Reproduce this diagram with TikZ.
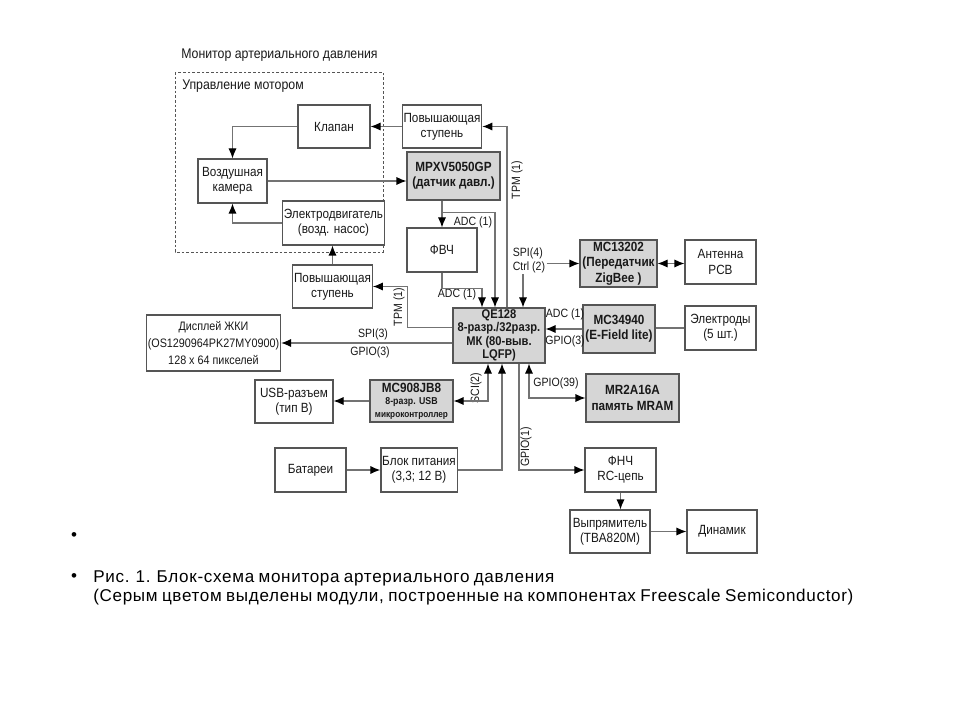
\documentclass[tikz,border=0pt]{standalone}
\usepackage{fontspec}
\setmainfont{Liberation Sans}
\newfontfamily\narrowfont[FakeStretch=0.88]{Liberation Sans}
\newfontfamily\capfont[LetterSpace=4,WordSpace=0.8]{Liberation Sans}
\usetikzlibrary{arrows.meta,calc}

\definecolor{boxgray}{RGB}{214,214,214}
\definecolor{linegray}{RGB}{115,115,115}
\definecolor{framegray}{RGB}{85,85,85}
\definecolor{textdark}{RGB}{25,25,25}

\begin{document}
\begin{tikzpicture}[x=0.75pt,y=-0.75pt,
  >={Latex[length=7.5pt,width=6.2pt,color=black]},
  font=\narrowfont\fontsize{10}{11.5}\selectfont,
  bx/.style 2 args={minimum width=#1*0.75pt,minimum height=#2*0.75pt},
  wbox/.style={draw=framegray,line width=0.9pt,fill=white,align=center,inner sep=1pt,text=textdark},
  gbox/.style={wbox,fill=boxgray,font=\narrowfont\bfseries\fontsize{10}{11.5}\selectfont},
  wire/.style={draw=linegray,line width=0.9pt},
  sig/.style={font=\narrowfont\fontsize{9}{10.5}\selectfont,text=textdark,inner sep=1pt},
  title/.style={font=\narrowfont\fontsize{10.5}{12}\selectfont,text=textdark,inner sep=0pt},
  caption/.style={font=\capfont\fontsize{12.8}{14.25}\selectfont,text=black,inner sep=0pt}]

\useasboundingbox (0,0) rectangle (960,720);

% Frame of the monitor
\draw[framegray,line width=0.7pt,dash pattern=on 2pt off 1.5pt] (175,72) rectangle (383,252);
\node[title,anchor=west] (montitle) at (181,55) {Монитор артериального давления};
\node[title,anchor=west] (motortitle) at (182,86) {Управление мотором};

% Motor control
\node[wbox,bx={72}{43}] (klapan) at (334,126.5) {Клапан};
\node[wbox,bx={69}{44}] (kamera) at (232.5,181) {Воздушная\\камера};
\node[wbox,bx={87}{44}] (motor) at (333.5,223) {Электродвигатель\\(возд. насос)};
\node[wbox,bx={70}{43}] (stepup1) at (442,126.5) {Повышающая\\ступень};
\node[wbox,bx={71}{43}] (stepup2) at (332.5,286.5) {Повышающая\\ступень};

% Pressure sensor
\node[gbox,bx={93}{48}] (mpxv) at (453.5,176) {MPXV5050GP\\(датчик давл.)};
\node[wbox,bx={70}{44}] (fvch) at (442,250) {ФВЧ};

% Controller
\node[gbox,bx={92}{55},font=\narrowfont\bfseries\fontsize{9.5}{10}\selectfont] (qe) at (499,335.5) {QE128\\8-разр./32разр.\\МК (80-выв.\\LQFP)};

% Radio and electrodes
\node[gbox,bx={77}{47}] (mc13202) at (618.5,263.5) {MC13202\\(Передатчик\\ZigBee )};
\node[wbox,bx={71}{44}] (antenna) at (720.5,262) {Антенна\\PCB};
\node[gbox,bx={72}{48}] (mc34940) at (619,329) {MC34940\\(E-Field lite)};
\node[wbox,bx={71}{44}] (electrodes) at (720.5,328) {Электроды\\(5 шт.)};

% Display, USB, power
\node[wbox,bx={133}{56},font=\narrowfont\fontsize{9.2}{12.4}\selectfont] (display) at (213.5,343) {Дисплей ЖКИ\\(OS1290964PK27MY0900)\\128 x 64 пикселей};
\node[wbox,bx={78}{43}] (usb) at (294,401.5) {USB-разъем\\(тип B)};
\node[gbox,bx={83}{42}] (mc908) at (411.5,401) {MC908JB8\\[-2pt]{\fontsize{7.5}{9}\selectfont 8-разр. USB}\\[-2pt]{\fontsize{7}{8.5}\selectfont микроконтроллер}};
\node[wbox,bx={71}{44}] (battery) at (310.5,470) {Батареи};
\node[wbox,bx={72}{44}] (power) at (419,470) {Блок питания\\(3,3; 12 В)};

% Memory and sound
\node[gbox,bx={93}{48}] (mram) at (632.5,398) {MR2A16A\\память MRAM};
\node[wbox,bx={71}{44}] (fnch) at (620.5,470) {ФНЧ\\RC-цепь};
\node[wbox,bx={80}{43}] (rectifier) at (610,531.5) {Выпрямитель\\(TBA820M)};
\node[wbox,bx={70}{43}] (speaker) at (722,531.5) {Динамик};

% Signal labels
\node[sig] (adcA) at (473,222) {ADC (1)};
\node[sig] (adcB) at (457,294) {ADC (1)};
\node[sig,rotate=90] (tpmA) at (517,180) {TPM (1)};
\node[sig,align=left] (spi) at (529,260) {SPI(4)\\Ctrl (2)};
\node[sig] (adcC) at (565,314) {ADC (1)};
\node[sig] (gpioC) at (565,341) {GPIO(3)};
\node[sig] (spiD) at (373,334) {SPI(3)};
\node[sig] (gpioD) at (370,352) {GPIO(3)};
\node[sig,rotate=90] (tpmB) at (399,307) {TPM (1)};
\node[sig,rotate=90] (sci) at (476,388) {SCI(2)};
\node[sig,rotate=90] (gpioE) at (526,447) {GPIO(1)};
\node[sig] (gpioF) at (556,383) {GPIO(39)};

% Motor loop wires
\draw[wire,->] (stepup1) -- (klapan);
\draw[wire,->] (klapan.west) -| (kamera.north);
\draw[wire,->] (motor.west) -| (kamera.south);
\draw[wire,->] (kamera.east) -- (kamera.east -| mpxv.west);
\draw[wire,->] (stepup2) -- (stepup2 |- motor.south);

% Sensor wires
\draw[wire,->] (mpxv.south -| fvch.north) -- (fvch.north);
\draw[wire,->] ($(mpxv.south -| fvch.north)+(0,12)$) -| ([shift={(-4,0)}]qe.north);
\draw[wire,->] (fvch.south) -- ++(0,16) -| ([shift={(-17,0)}]qe.north);
\draw[wire,->] ([shift={(8,0)}]qe.north) |- (stepup1.east);

% Radio and electrodes wires
\draw[wire,->] (spi.east |- mc13202.west) -- (mc13202.west);
\draw[wire,->] ([shift={(-6,0)}]spi.south) -- ([shift={(-6,0)}]spi.south |- qe.north);
\draw[wire,<->] (mc13202.east) -- (mc13202.east -| antenna.west);
\draw[wire] (electrodes.west) -- (electrodes.west -| mc34940.east);
\draw[wire,->] (mc34940.west) -- (mc34940.west -| qe.east);

% Display and motor driver wires
\draw[wire,->] (qe.west |- display.east) -- (display.east);
\draw[wire,->] ([shift={(0,-8)}]qe.west) -- ++(-45,0) |- (stepup2.east);

% USB and power wires
\draw[wire,<->] ([shift={(-11,0)}]qe.south) |- (mc908.east);
\draw[wire,->] (mc908.west) -- (mc908.west -| usb.east);
\draw[wire,->] (battery) -- (power);
\draw[wire,->] (power.east) -| ([shift={(3,0)}]qe.south);

% Memory and sound wires
\draw[wire,<->] ([shift={(30,0)}]qe.south) |- (mram.west);
\draw[wire,->] ([shift={(20,0)}]qe.south) |- (fnch.west);
\draw[wire,->] (fnch.south) -- (fnch.south |- rectifier.north);
\draw[wire,->] (rectifier) -- (speaker);

% Caption
\node[caption] (bulA) at (74,537) {•};
\node[caption] (bulB) at (74,578) {•};
\node[caption,anchor=west,align=left] (cap) at (93,587.5) {Рис. 1. Блок-схема монитора артериального давления\\(Серым цветом выделены модули, построенные на компонентах Freescale Semiconductor)};

\end{tikzpicture}
\end{document}
